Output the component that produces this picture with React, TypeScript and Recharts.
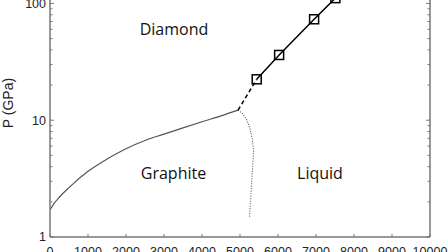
import React from "react";
import { ComposedChart, Line, XAxis, YAxis } from "recharts";

// graphite / diamond boundary
const graphiteT = [0, 100, 250, 500, 1000, 1500, 2000, 2500, 3000, 3500, 4000, 4500, 4950];
const graphiteP = [1.7, 1.92, 2.2, 2.65, 3.65, 4.65, 5.7, 6.7, 7.6, 8.6, 9.7, 10.9, 12.2];

// graphite melting (dotted)
const meltT = [4950, 5080, 5180, 5260, 5320, 5360, 5340, 5310, 5280, 5250];
const meltP = [12.2, 11.3, 10.0, 8.5, 7.0, 5.5, 4.3, 3.1, 2.1, 1.46];

// extrapolated diamond melting (dashed)
const dashT = [4950, 5440];
const dashP = [12.2, 22.4];

// diamond melting, measured points
const diamondT = [5440, 6030, 6950, 7510];
const diamondP = [22.4, 36.2, 73.2, 111];

const xTicks = [0, 1000, 2000, 3000, 4000, 5000, 6000, 7000, 8000, 9000, 10000];
const yTicks = [1, 2, 3, 4, 5, 6, 7, 8, 9, 10, 20, 30, 40, 50, 60, 70, 80, 90, 100];
const yLabels = [1, 10, 100];

const zip = (t: number[], p: number[]) => t.map((v, i) => ({ t: v, p: p[i] }));

const AXIS = "#777";
const FONT = "'Liberation Sans', Arial, sans-serif";

const LeftTick = ({ x, y, payload }: any) => {
  const major = yLabels.includes(payload.value);
  return (
    <g>
      <line x1={x} x2={x + (major ? 4 : 2.5)} y1={y} y2={y} stroke={AXIS} strokeWidth={1} />
      {major && (
        <text x={x - 4} y={y} dy="0.35em" textAnchor="end" fontSize={12.5} fontFamily={FONT} fill="#222">
          {payload.value}
        </text>
      )}
    </g>
  );
};

const RightTick = ({ x, y, payload }: any) => {
  const major = yLabels.includes(payload.value);
  return <line x1={x} x2={x - (major ? 4 : 2.5)} y1={y} y2={y} stroke={AXIS} strokeWidth={1} />;
};

const BottomTick = ({ x, y, payload }: any) => (
  <g>
    <line x1={x} x2={x} y1={y} y2={y - 3} stroke={AXIS} strokeWidth={1} />
    <text x={x} y={y + 19} textAnchor="middle" fontSize={12.5} fontFamily={FONT} fill="#222">
      {payload.value}
    </text>
  </g>
);

const Square = ({ cx, cy, index }: any) => (
  <rect key={`sq-${index}`} x={cx - 4.5} y={cy - 4.5} width={9} height={9} fill="none" stroke="#000" strokeWidth={1.5} />
);

export default function App() {
  return (
    <div style={{ position: "absolute", left: 0, top: 0, width: 448, height: 252, background: "#fff", overflow: "hidden" }}>
      <ComposedChart width={448} height={252} margin={{ top: 0, right: 0, bottom: 0, left: 0 }}>
        <XAxis
          dataKey="t"
          type="number"
          domain={[0, 10000]}
          ticks={xTicks}
          height={15}
          tickSize={0}
          tickMargin={0}
          tickLine={false}
          axisLine={{ stroke: AXIS, strokeWidth: 1.5 }}
          tick={<BottomTick />}
          interval={0}
          allowDataOverflow
        />
        <YAxis
          yAxisId="l"
          dataKey="p"
          type="number"
          scale="log"
          domain={[1, 107]}
          ticks={yTicks}
          width={50}
          tickSize={0}
          tickMargin={0}
          tickLine={false}
          axisLine={{ stroke: AXIS, strokeWidth: 1.5 }}
          tick={<LeftTick />}
          interval={0}
          allowDataOverflow
        />
        <YAxis
          yAxisId="r"
          orientation="right"
          type="number"
          scale="log"
          domain={[1, 107]}
          ticks={yTicks}
          width={18}
          tickSize={0}
          tickMargin={0}
          tickLine={false}
          axisLine={{ stroke: AXIS, strokeWidth: 1.5 }}
          tick={<RightTick />}
          interval={0}
          allowDataOverflow
        />
        <Line yAxisId="l" data={zip(graphiteT, graphiteP)} dataKey="p" type="monotone" stroke="#555" strokeWidth={1.2} dot={false} isAnimationActive={false} />
        <Line yAxisId="l" data={zip(meltT, meltP)} dataKey="p" type="linear" stroke="#555" strokeWidth={1.1} strokeDasharray="1 1.5" dot={false} isAnimationActive={false} />
        <Line yAxisId="l" data={zip(dashT, dashP)} dataKey="p" type="linear" stroke="#000" strokeWidth={1.5} strokeDasharray="4 3" dot={false} isAnimationActive={false} />
        <Line yAxisId="l" data={zip(diamondT, diamondP)} dataKey="p" type="linear" stroke="#000" strokeWidth={1.5} dot={<Square />} isAnimationActive={false} />
      </ComposedChart>
      <svg width={448} height={252} style={{ position: "absolute", left: 0, top: 0, pointerEvents: "none" }}>
        <g fontFamily="'Open Sans', sans-serif" fontSize={16} fill="#111" textAnchor="middle">
          <text x={174} y={35}>Diamond</text>
          <text x={173.5} y={179}>Graphite</text>
          <text x={320} y={179}>Liquid</text>
        </g>
        <text x={12.5} y={103} transform="rotate(-90 12.5 103)" textAnchor="middle" fontFamily={FONT} fontSize={14} fill="#222">
          P (GPa)
        </text>
      </svg>
    </div>
  );
}
